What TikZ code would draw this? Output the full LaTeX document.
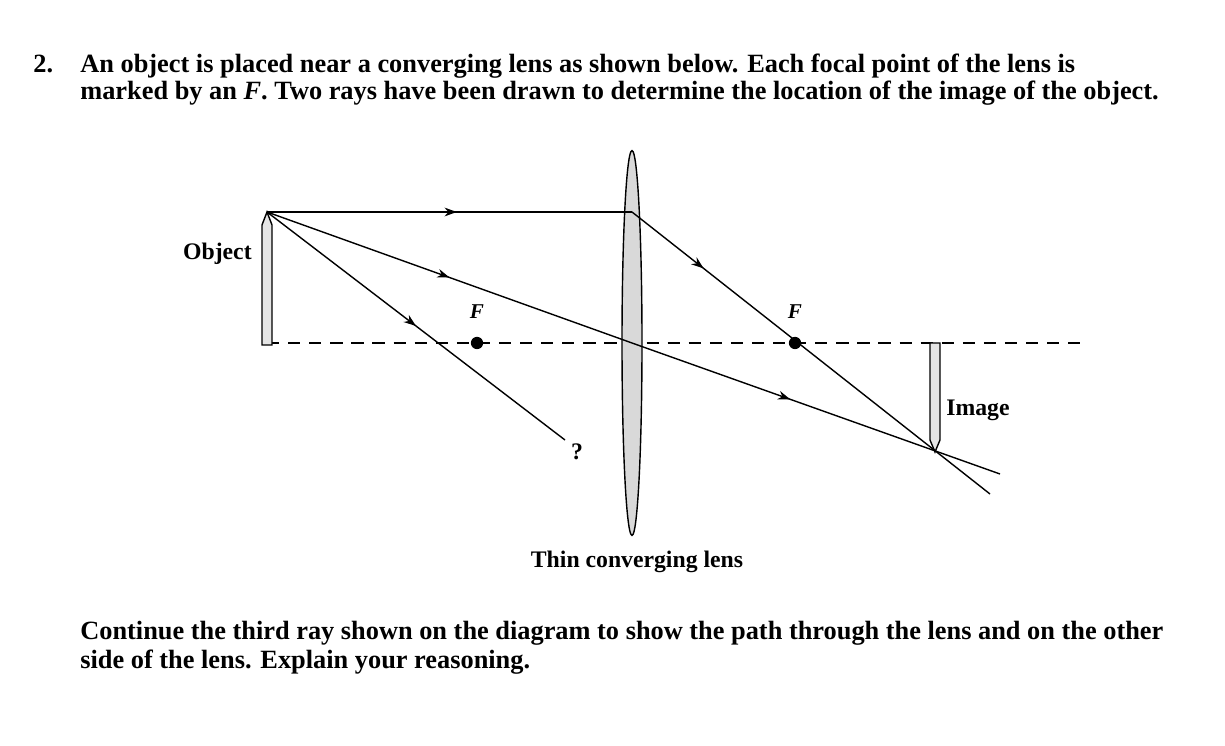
\documentclass[tikz,border=0pt]{standalone}
\usepackage{fontspec}
\setmainfont{Liberation Serif}
\usetikzlibrary{decorations.markings,arrows.meta,shapes.geometric}
\begin{document}
\begin{tikzpicture}[x=0.02cm,y=-0.02cm,
  txt/.style={font=\bfseries\fontsize{15}{17}\selectfont,inner sep=0},
  lbl/.style={font=\bfseries\fontsize{13.5}{15}\selectfont,inner sep=0},
  ray/.style={line width=0.8pt},
  mid/.style={postaction={decorate},decoration={markings,mark=at position #1 with {\arrow{Stealth[length=7pt,width=5pt]}}}},
  dot/.style={circle,fill,inner sep=0,minimum size=7pt}]
\useasboundingbox (0,0) rectangle (1225,746);
\node[txt,anchor=base west] (n) at (33,73) {2.};
\node[txt,anchor=base west] (l1) at (80,73) {An object is placed near a converging lens as shown below. Each focal point of the lens is};
\node[txt,anchor=base west] (l2) at (80,100) {marked by an \textit{F}. Two rays have been drawn to determine the location of the image of the object.};
% axis
\draw[dash pattern=on 7pt off 5pt,line width=0.8pt] (267,343) -- (1080,343);
% lens
\node[draw,ellipse,line width=0.8pt,fill=gray!30,minimum width=0.4cm,minimum height=7.7cm,inner sep=0] (lens) at (632,343) {};
% object
\coordinate (ot) at (267,212);
\draw[line width=0.8pt,fill=gray!20] (262,345) -- (262,225) -- (ot) -- (272,225) -- (272,345) -- cycle;
\node[lbl,anchor=east] (obj) at (252,254) {Object};
% image
\coordinate (it) at (935,452);
\draw[line width=0.8pt,fill=gray!20] (930,343) -- (930,440) -- (it) -- (940,440) -- (940,343) -- cycle;
\node[lbl,anchor=west] (img) at (946,410) {Image};
% focal points
\node[dot] (f1) at (477,343) {};
\node[dot] (f2) at (795,343) {};
\node[lbl,font=\bfseries\itshape\fontsize{12}{14}\selectfont] at (477,312) {F};
\node[lbl,font=\bfseries\itshape\fontsize{12}{14}\selectfont] at (795,312) {F};
% rays
\coordinate (l1p) at (632,212);
\coordinate (c) at (632,343);
\coordinate (e1) at (990,494);
\coordinate (e2) at (1000,474);
\coordinate (e3) at (565,440);
\draw[ray,mid=0.52] (ot) -- (l1p);
\draw[ray,mid=0.2] (l1p) -- (e1);
\draw[ray,mid=0.5] (ot) -- (c);
\draw[ray,mid=0.43] (c) -- (e2);
\draw[ray,mid=0.5] (ot) -- (e3);
\node[lbl] (q) at (577,452) {?};
\node[lbl] (tl) at (637,562) {Thin converging lens};
\node[txt,anchor=base west] (b1) at (80,640) {Continue the third ray shown on the diagram to show the path through the lens and on the other};
\node[txt,anchor=base west] (b2) at (80,668) {side of the lens. Explain your reasoning.};
\end{tikzpicture}
\end{document}
